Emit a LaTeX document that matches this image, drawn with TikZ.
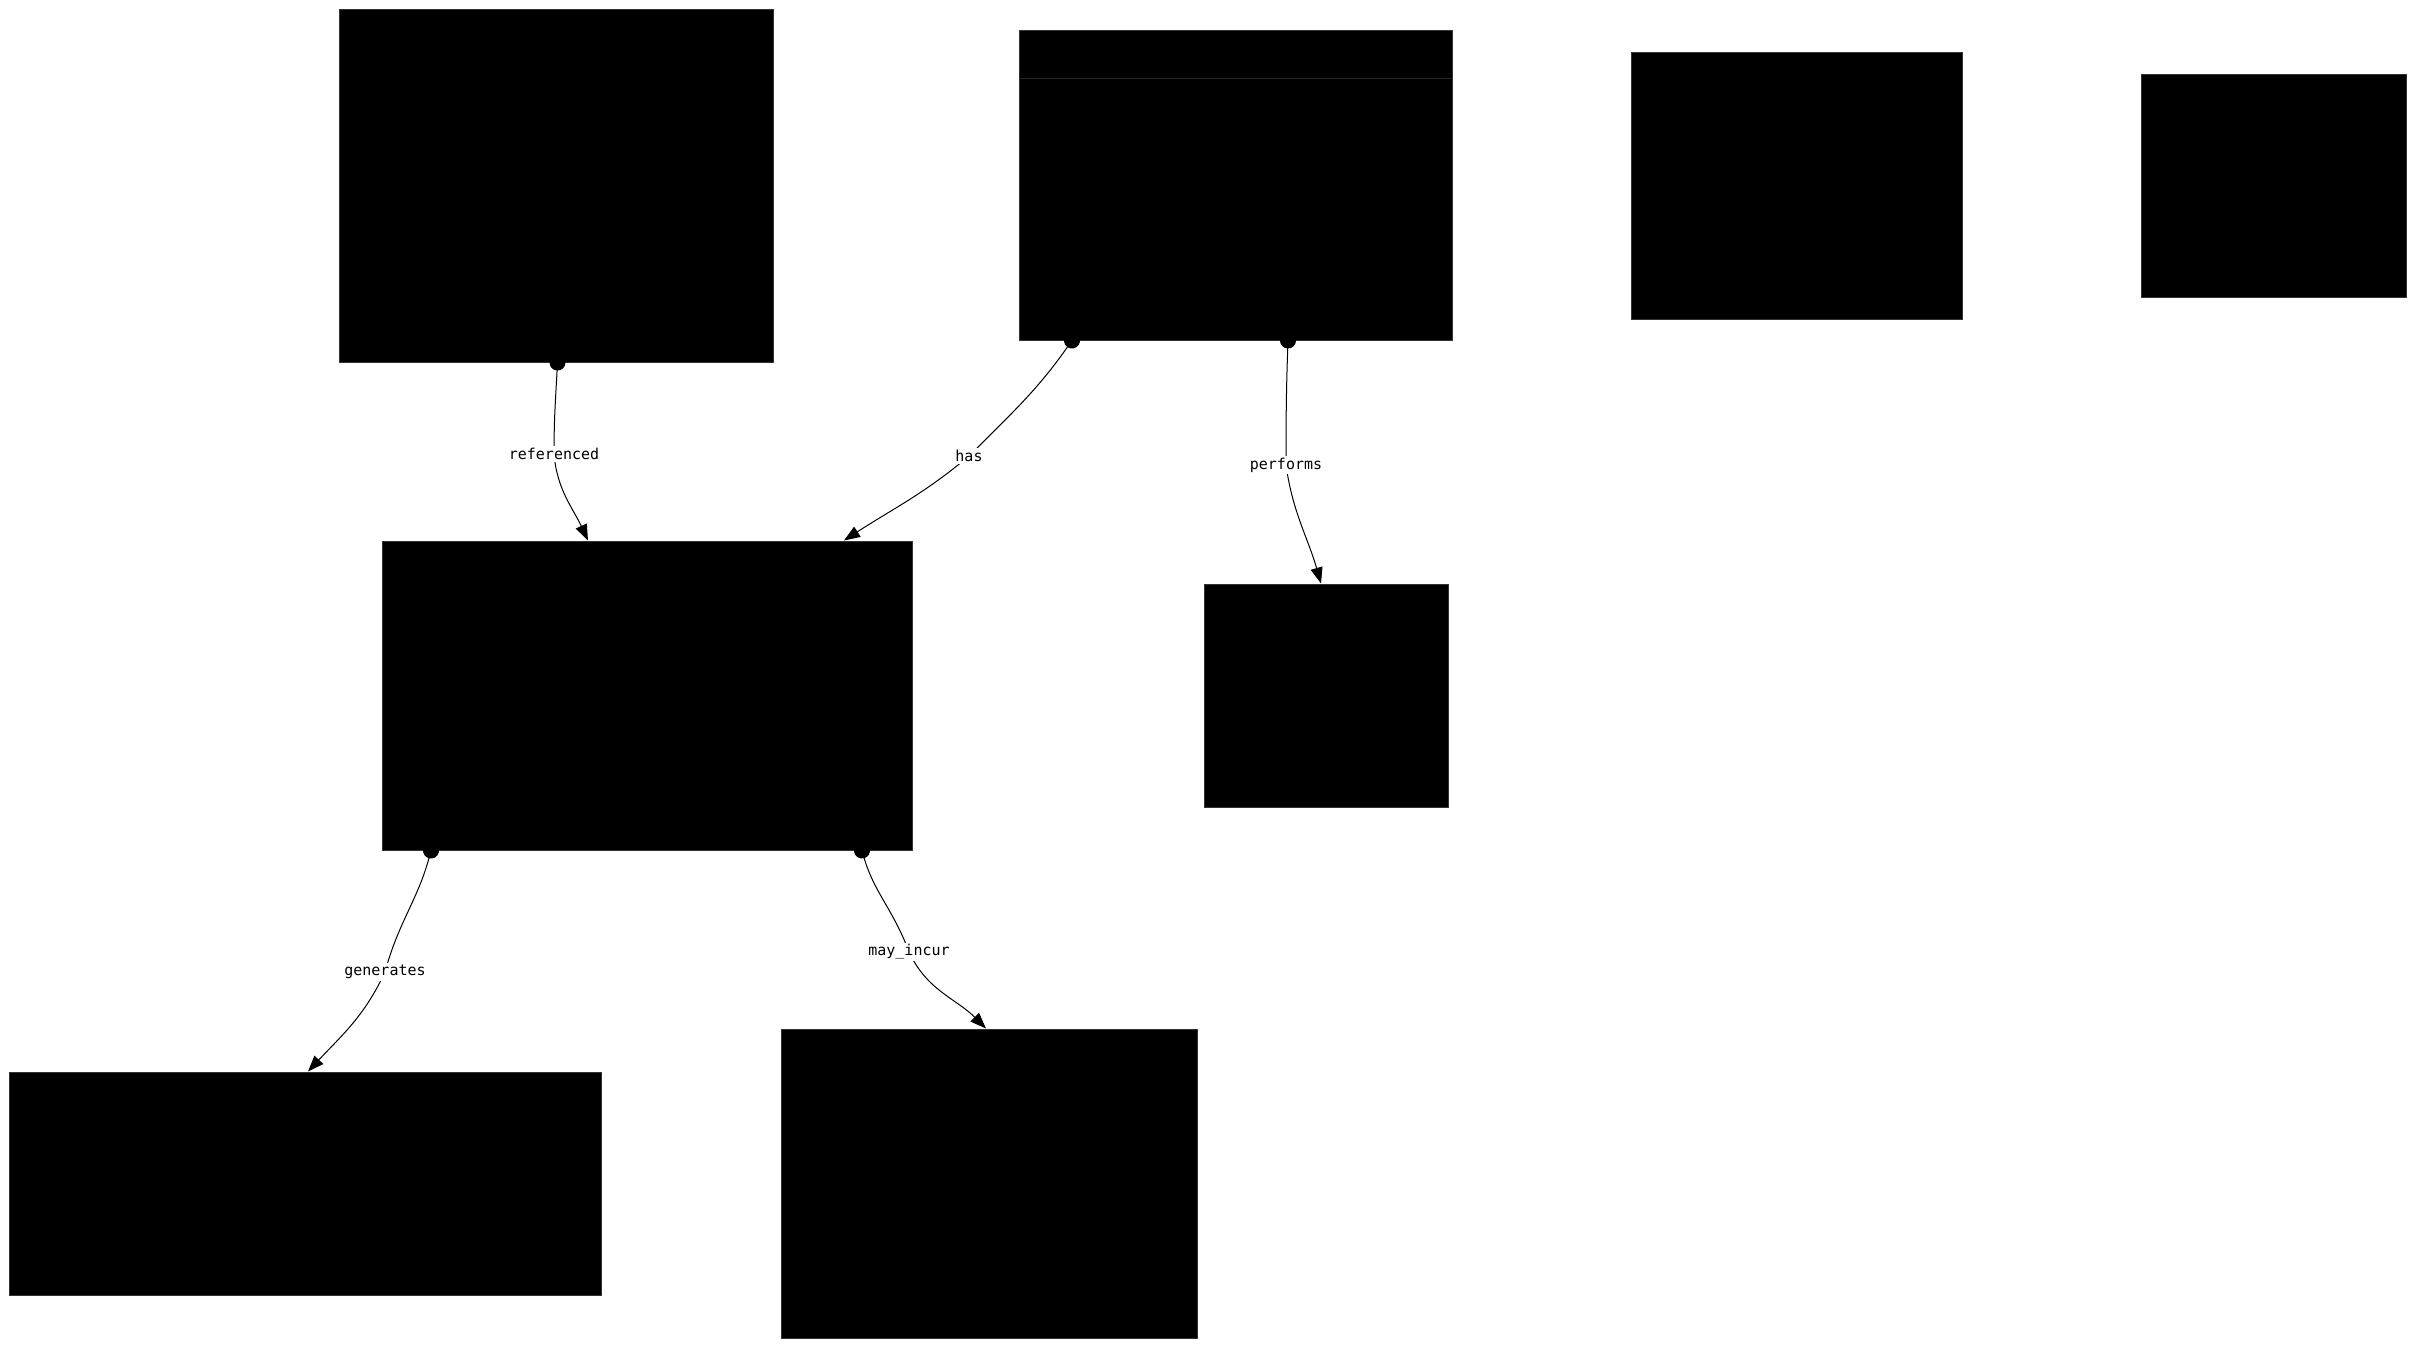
\documentclass[tikz,border=0pt]{standalone}
\usepackage{fontspec}
\newfontfamily\relfont{DejaVu Sans Mono}
\usepackage{tikz}
\usetikzlibrary{positioning, arrows.meta, calc}
\tikzstyle{ent}=[%
      rectangle, draw=black!80, line width=1pt, fill=black, inner sep=0pt
]
\tikzstyle{lb}=[%
      fill=white, inner sep=2pt, text=black, font=\relfont\fontsize{15}{17}\selectfont
]
\tikzstyle{rel}=[%
      draw=black, line width=1pt, shorten <=-8pt
]
\tikzstyle{sepline}=[%
      draw=black!85, line width=1pt
]

\begin{document}
\begin{tikzpicture}[x=1pt, y=-1pt,
    {Circle[length=16pt]}-{Triangle[length=16pt,width=12pt]}
  ]
    \useasboundingbox (0,0) rectangle (2415,1347);

    % top row
    \node[ent, minimum width=434, minimum height=353] (e1) at (556.5,185.5) {};
    \node[ent, minimum width=433, minimum height=310] (e2) at (1235.5,185) {};
    \node[ent, minimum width=331, minimum height=267] (e3) at (1796.5,185.5) {};
    \node[ent, minimum width=265, minimum height=223] (e4) at (2273.5,185.5) {};
    \draw[sepline, -] ([yshift=-49]e2.north west) -- ([yshift=-49]e2.north east);

    % middle row
    \node[ent, minimum width=530, minimum height=309] (e5) at (647,695.5) {};
    \node[ent, minimum width=244, minimum height=223] (e6) at (1326,695.5) {};

    % bottom row
    \node[ent, minimum width=592, minimum height=223] (e7) at (305,1183.5) {};
    \node[ent, minimum width=416, minimum height=309] (e8) at (989,1183.5) {};

    \coordinate (cref) at (554,454);
    \coordinate (chas) at (969,456);
    \coordinate (cperf) at (1286,465);
    \coordinate (cgen) at (385,972);
    \coordinate (cinc) at (909,952);

    \draw[rel] ([xshift=1]e1.south) to[out=-93,in=90] (cref)
          to[out=-85,in=115] ([xshift=-59]e5.north);
    \draw[rel] ([xshift=-163.5]e2.south) to[out=-125,in=45] (chas)
          to[out=-140,in=33] ([xshift=197]e5.north);
    \draw[rel] ([xshift=52.5]e2.south) to[out=-92,in=90] (cperf)
          to[out=-82,in=106] ([xshift=-5]e6.north);
    \draw[rel] ([xshift=-216]e5.south) to[out=-105,in=75] (cgen)
          to[out=-115,in=47] ([xshift=3]e7.north);
    \draw[rel] ([xshift=215]e5.south) to[out=-74,in=110] (cinc)
          to[out=-65,in=135] ([xshift=-3]e8.north);

    \node[lb] (lref) at (cref) {referenced};
    \node[lb] (lhas) at (chas) {has};
    \node[lb] (lperf) at (cperf) {performs};
    \node[lb] (lgen) at (cgen) {generates};
    \node[lb] (linc) at (cinc) {may\_incur};

  \end{tikzpicture}
\end{document}
